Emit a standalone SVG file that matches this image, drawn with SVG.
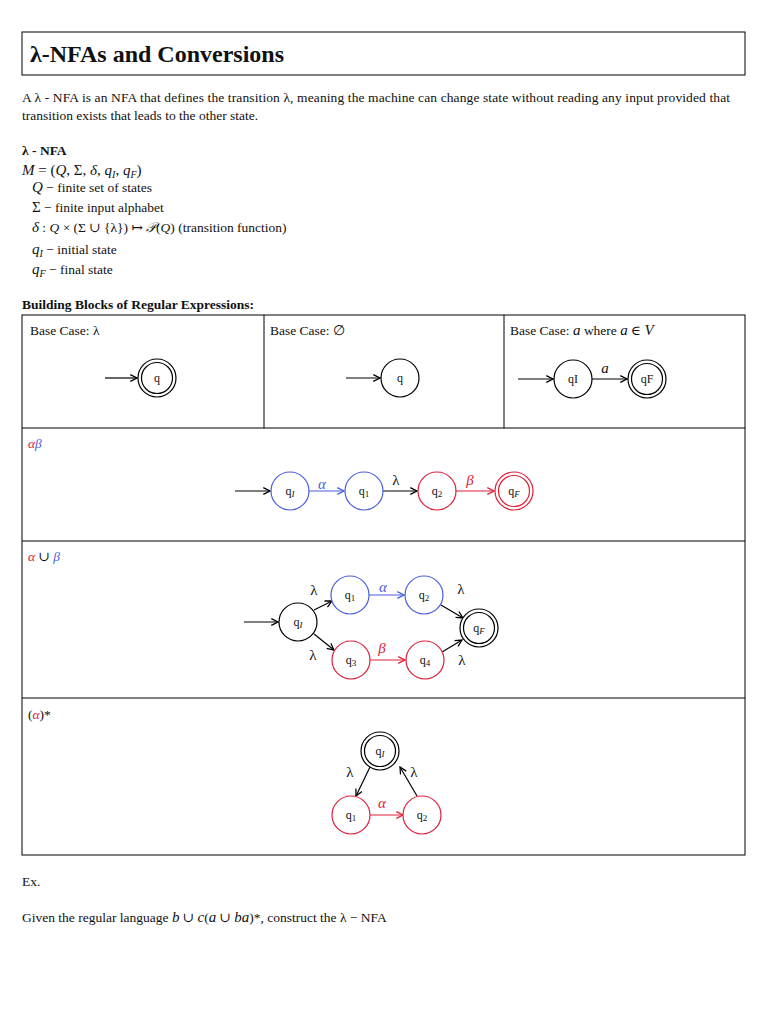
<svg xmlns="http://www.w3.org/2000/svg" width="768" height="1024" viewBox="0 0 768 1024">
<defs>
<marker id="ak" viewBox="0 0 10 10" refX="9" refY="5" markerWidth="7" markerHeight="7" orient="auto"><path d="M1,1 L9,5 L1,9" fill="none" stroke="#000" stroke-width="1.5"/></marker>
<marker id="ab" viewBox="0 0 10 10" refX="9" refY="5" markerWidth="7" markerHeight="7" orient="auto"><path d="M1,1 L9,5 L1,9" fill="none" stroke="#4a5fe0" stroke-width="1.5"/></marker>
<marker id="ar" viewBox="0 0 10 10" refX="9" refY="5" markerWidth="7" markerHeight="7" orient="auto"><path d="M1,1 L9,5 L1,9" fill="none" stroke="#e0203a" stroke-width="1.5"/></marker>
</defs>
<style>
text{font-family:"Liberation Serif","DejaVu Serif",serif;fill:#111;font-size:13.5px}
.i{font-style:italic}
.s{fill:#fff;stroke:#000;stroke-width:1.2}
.b{fill:#fff;stroke:#4a5fe0;stroke-width:1.2}
.r{fill:#fff;stroke:#e0203a;stroke-width:1.2}
.lk{stroke:#000;stroke-width:1.2;fill:none;marker-end:url(#ak)}
.lb{stroke:#4a5fe0;stroke-width:1.2;fill:none;marker-end:url(#ab)}
.lr{stroke:#e0203a;stroke-width:1.2;fill:none;marker-end:url(#ar)}
.c{text-anchor:middle;font-size:12px}
.g{text-anchor:middle;font-size:15px}
.bt{fill:#4a5fe0}
.rt{fill:#e0203a}
.box{fill:none;stroke:#000;stroke-width:1}
</style>
<rect x="0" y="0" width="768" height="1024" fill="#fff"/>
<rect class="box" x="22" y="32" width="723" height="43"/>
<text x="30" y="62" style="font-size:24px;font-weight:bold">λ-NFAs and Conversions</text>
<text x="22" y="102" textLength="708">A λ - NFA is an NFA that defines the transition λ, meaning the machine can change state without reading any input provided that</text>
<text x="22" y="120">transition exists that leads to the other state.</text>
<text x="22" y="155" style="font-weight:bold">λ - NFA</text>
<text x="22" y="175" style="font-size:15px"><tspan class="i">M</tspan> = (<tspan class="i">Q</tspan>, Σ, <tspan class="i">δ</tspan>, <tspan class="i">q<tspan font-size="10" dy="3">I</tspan></tspan><tspan dy="-3">, </tspan><tspan class="i">q<tspan font-size="10" dy="3">F</tspan></tspan><tspan dy="-3">)</tspan></text>
<text x="32" y="192"><tspan class="i" font-size="15">Q</tspan> − finite set of states</text>
<text x="32" y="212"><tspan font-size="15">Σ</tspan> − finite input alphabet</text>
<text x="32" y="232"><tspan class="i" font-size="15">δ</tspan> : <tspan class="i">Q</tspan> × (Σ ∪ {λ}) ↦ <tspan class="i">𝒫</tspan>(<tspan class="i">Q</tspan>)  (transition function)</text>
<text x="32" y="254"><tspan class="i" font-size="15">q</tspan><tspan class="i" font-size="10" dy="3">I</tspan><tspan dy="-3"> − initial state</tspan></text>
<text x="32" y="274"><tspan class="i" font-size="15">q</tspan><tspan class="i" font-size="10" dy="3">F</tspan><tspan dy="-3"> − final state</tspan></text>
<text x="22" y="309" style="font-weight:bold">Building Blocks of Regular Expressions:</text>
<rect class="box" x="22" y="315" width="723" height="540"/>
<path class="box" d="M22,428H745M22,541H745M22,698H745M264,315V428M504,315V428"/>
<text x="30" y="335">Base Case: λ</text>
<text x="270" y="335">Base Case: ∅</text>
<text x="510" y="335">Base Case: <tspan class="i" font-size="15">a</tspan> where <tspan class="i" font-size="15">a</tspan> ∈ <tspan class="i" font-size="15">V</tspan></text>
<text x="28" y="448" class="i" font-size="15"><tspan class="rt">α</tspan><tspan class="bt">β</tspan></text>
<text x="28" y="561" font-size="15"><tspan class="rt i">α</tspan> ∪ <tspan class="bt i">β</tspan></text>
<text x="28" y="719" font-size="15">(<tspan class="rt i">α</tspan>)*</text>
<g id="connectors">
<path class="lk" d="M105,378H137"/>
<path class="lk" d="M346,378H380"/>
<path class="lk" d="M518,379H553"/>
<path class="lk" d="M592,379H627"/>
<path class="lk" d="M235,491H270"/>
<path class="lb" d="M309,491H344"/>
<path class="lk" d="M383,491H417"/>
<path class="lr" d="M456,491H494"/>
<path class="lk" d="M244,622H278"/>
<path class="lk" d="M314,610L332,601"/>
<path class="lk" d="M314,634L334,650"/>
<path class="lb" d="M369,595H404"/>
<path class="lr" d="M370,660H405"/>
<path class="lk" d="M441,605L463,618"/>
<path class="lk" d="M442,652L462,640"/>
<path class="lk" d="M370,767L356,796"/>
<path class="lk" d="M417,796L400,767"/>
<path class="lr" d="M370,815H403"/>
</g>
<text x="605" y="373" class="g i">a</text>
<text x="322" y="489" class="g bt i">α</text>
<text x="396" y="485" class="g">λ</text>
<text x="470" y="485" class="g rt i">β</text>
<text x="314" y="595" class="g">λ</text>
<text x="383" y="592" class="g bt i">α</text>
<text x="461" y="594" class="g">λ</text>
<text x="313" y="660" class="g">λ</text>
<text x="382" y="653" class="g rt i">β</text>
<text x="462" y="665" class="g">λ</text>
<text x="350" y="777" class="g">λ</text>
<text x="414" y="777" class="g">λ</text>
<text x="382" y="808" class="g rt i">α</text>
<g id="bc1q"><circle class="s" cx="157" cy="378" r="19"/><circle class="s" cx="157" cy="378" r="15.5"/><text x="157" y="382" class="c">q</text></g>
<g id="bc2q"><circle class="s" cx="400" cy="378" r="19"/><text x="400" y="382" class="c">q</text></g>
<g id="bc3qI"><circle class="s" cx="573" cy="379" r="19"/><text x="573" y="383" class="c">qI</text></g>
<g id="bc3qF"><circle class="s" cx="647" cy="379" r="19"/><circle class="s" cx="647" cy="379" r="15.5"/><text x="647" y="383" class="c">qF</text></g>
<g id="c_qI"><circle class="b" cx="290" cy="491" r="19"/><text x="290" y="495" class="c">q<tspan class="i" font-size="9" dy="2">I</tspan></text></g>
<g id="c_q1"><circle class="b" cx="364" cy="491" r="19"/><text x="364" y="495" class="c">q<tspan font-size="9" dy="2">1</tspan></text></g>
<g id="c_q2"><circle class="r" cx="437" cy="491" r="19"/><text x="437" y="495" class="c">q<tspan font-size="9" dy="2">2</tspan></text></g>
<g id="c_qF"><circle class="r" cx="514" cy="491" r="19"/><circle class="r" cx="514" cy="491" r="15.5"/><text x="514" y="495" class="c">q<tspan class="i" font-size="9" dy="2">F</tspan></text></g>
<g id="u_qI"><circle class="s" cx="298" cy="622" r="19"/><text x="298" y="626" class="c">q<tspan class="i" font-size="9" dy="2">I</tspan></text></g>
<g id="u_q1"><circle class="b" cx="350" cy="595" r="19"/><text x="350" y="599" class="c">q<tspan font-size="9" dy="2">1</tspan></text></g>
<g id="u_q2"><circle class="b" cx="424" cy="595" r="19"/><text x="424" y="599" class="c">q<tspan font-size="9" dy="2">2</tspan></text></g>
<g id="u_q3"><circle class="r" cx="351" cy="660" r="19"/><text x="351" y="664" class="c">q<tspan font-size="9" dy="2">3</tspan></text></g>
<g id="u_q4"><circle class="r" cx="425" cy="660" r="19"/><text x="425" y="664" class="c">q<tspan font-size="9" dy="2">4</tspan></text></g>
<g id="u_qF"><circle class="s" cx="479" cy="628" r="19"/><circle class="s" cx="479" cy="628" r="15.5"/><text x="479" y="632" class="c">q<tspan class="i" font-size="9" dy="2">F</tspan></text></g>
<g id="s_qI"><circle class="s" cx="380" cy="751" r="19"/><circle class="s" cx="380" cy="751" r="15.5"/><text x="380" y="755" class="c">q<tspan class="i" font-size="9" dy="2">I</tspan></text></g>
<g id="s_q1"><circle class="r" cx="351" cy="815" r="19"/><text x="351" y="819" class="c">q<tspan font-size="9" dy="2">1</tspan></text></g>
<g id="s_q2"><circle class="r" cx="422" cy="815" r="19"/><text x="422" y="819" class="c">q<tspan font-size="9" dy="2">2</tspan></text></g>
<text x="22" y="886">Ex.</text>
<text x="22" y="922">Given the regular language <tspan class="i" font-size="15">b</tspan> ∪ <tspan class="i" font-size="15">c</tspan>(<tspan class="i" font-size="15">a</tspan> ∪ <tspan class="i" font-size="15">ba</tspan>)*, construct the λ − NFA</text>
</svg>
